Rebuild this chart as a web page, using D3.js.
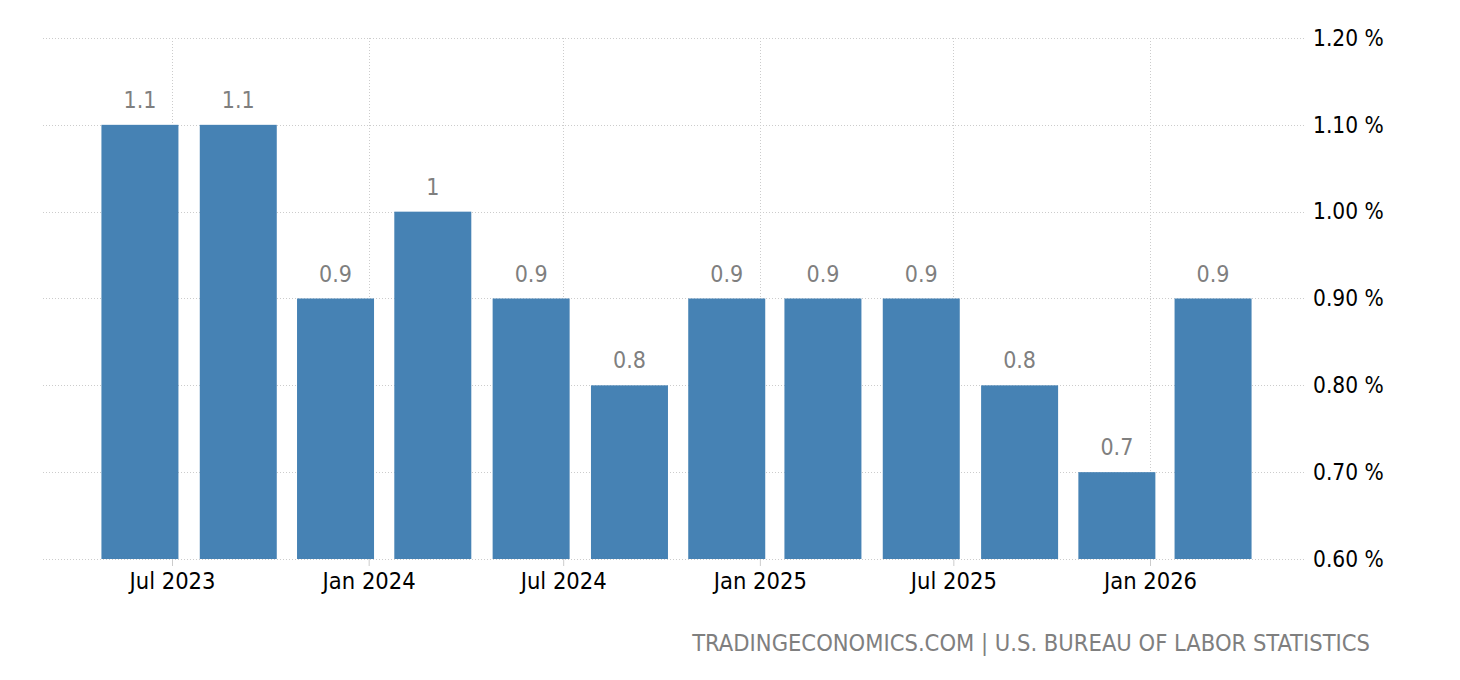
<!DOCTYPE html>
<html lang="en">

<head>
    <meta charset="UTF-8">
    <title>Employment Cost Index QoQ</title>
    <script src="https://cdn.jsdelivr.net/npm/d3@7"></script>
</head>

<body>
    <script>
        // quarterly values, one bar per quarter
        const dates = ["2023-06-01", "2023-09-01", "2023-12-01", "2024-03-01", "2024-06-01", "2024-09-01",
            "2024-12-01", "2025-03-01", "2025-06-01", "2025-09-01", "2025-12-01", "2026-03-01"];
        const values = [1.1, 1.1, 0.9, 1.0, 0.9, 0.8, 0.9, 0.9, 0.9, 0.8, 0.7, 0.9];
        const yTicks = [0.6, 0.7, 0.8, 0.9, 1.0, 1.1, 1.2];
        const xTicks = ["2023-07-01", "2024-01-01", "2024-07-01", "2025-01-01", "2025-07-01", "2026-01-01"];
        const source = "TRADINGECONOMICS.COM | U.S. BUREAU OF LABOR STATISTICS";

        const width = 1460;
        const height = 680;
        const font = "'DejaVu Sans Condensed', 'DejaVu Sans', sans-serif";

        const svg = d3.select("body").append("svg").attr("width", width).attr("height", height);

        const x = d3.scaleUtc()
            .domain([new Date("2023-07-01"), new Date("2026-01-01")])
            .range([172, 1150]);
        const y = d3.scaleLinear().domain([0.6, 1.2]).range([559, 38]);
        const barW = 77;

        // horizontal dotted grid
        svg.append("g")
            .selectAll("line")
            .data(yTicks)
            .join("line")
            .attr("x1", 43)
            .attr("x2", 1306)
            .attr("y1", d => Math.round(y(d)) + 0.5)
            .attr("y2", d => Math.round(y(d)) + 0.5)
            .attr("stroke", "#ccc")
            .attr("stroke-dasharray", "1,2");

        // vertical dotted grid
        svg.append("g")
            .selectAll("line")
            .data(xTicks)
            .join("line")
            .attr("x1", d => Math.round(x(new Date(d))) + 0.5)
            .attr("x2", d => Math.round(x(new Date(d))) + 0.5)
            .attr("y1", y(1.2))
            .attr("y2", y(0.6))
            .attr("stroke", "#ccc")
            .attr("stroke-dasharray", "1,2");

        // bars
        svg.append("g")
            .selectAll("rect")
            .data(values)
            .join("rect")
            .attr("x", (d, i) => x(new Date(dates[i])) - barW / 2)
            .attr("width", barW)
            .attr("y", d => y(d))
            .attr("height", d => y(0.6) - y(d))
            .attr("fill", "#4682b4");

        // value labels
        svg.append("g")
            .selectAll("text")
            .data(values)
            .join("text")
            .attr("x", (d, i) => x(new Date(dates[i])))
            .attr("y", d => y(d) - 17)
            .attr("text-anchor", "middle")
            .attr("font-family", font)
            .attr("font-size", 23)
            .attr("fill", "#7f7f7f")
            .text(d => d);

        // x axis
        const xAxis = svg.append("g")
            .attr("transform", `translate(0,${y(0.6)})`)
            .call(d3.axisBottom(x)
                .tickValues(xTicks.map(d => new Date(d)))
                .tickFormat(d3.utcFormat("%b %Y"))
                .tickSize(7)
                .tickPadding(6));
        xAxis.select(".domain").remove();
        xAxis.selectAll(".tick line").attr("stroke", "#ccc");
        xAxis.selectAll(".tick text")
            .attr("font-family", font)
            .attr("font-size", 23.5)
            .attr("fill", "#000");

        // y axis on the right
        const yAxis = svg.append("g")
            .attr("transform", "translate(1306,0)")
            .call(d3.axisRight(y)
                .tickValues(yTicks)
                .tickFormat(d => d3.format(".2f")(d) + " %")
                .tickSize(0)
                .tickPadding(7));
        yAxis.select(".domain").remove();
        yAxis.selectAll(".tick text")
            .attr("font-family", font)
            .attr("font-size", 22.5)
            .attr("fill", "#000");

        // source
        svg.append("text")
            .attr("x", 1370)
            .attr("y", 651)
            .attr("text-anchor", "end")
            .attr("font-family", font)
            .attr("font-size", 23.5)
            .attr("fill", "#7f7f7f")
            .text(source);
    </script>
    <style>
        * {
            margin: 0;
            padding: 0;
        }
    </style>
</body>

</html>
